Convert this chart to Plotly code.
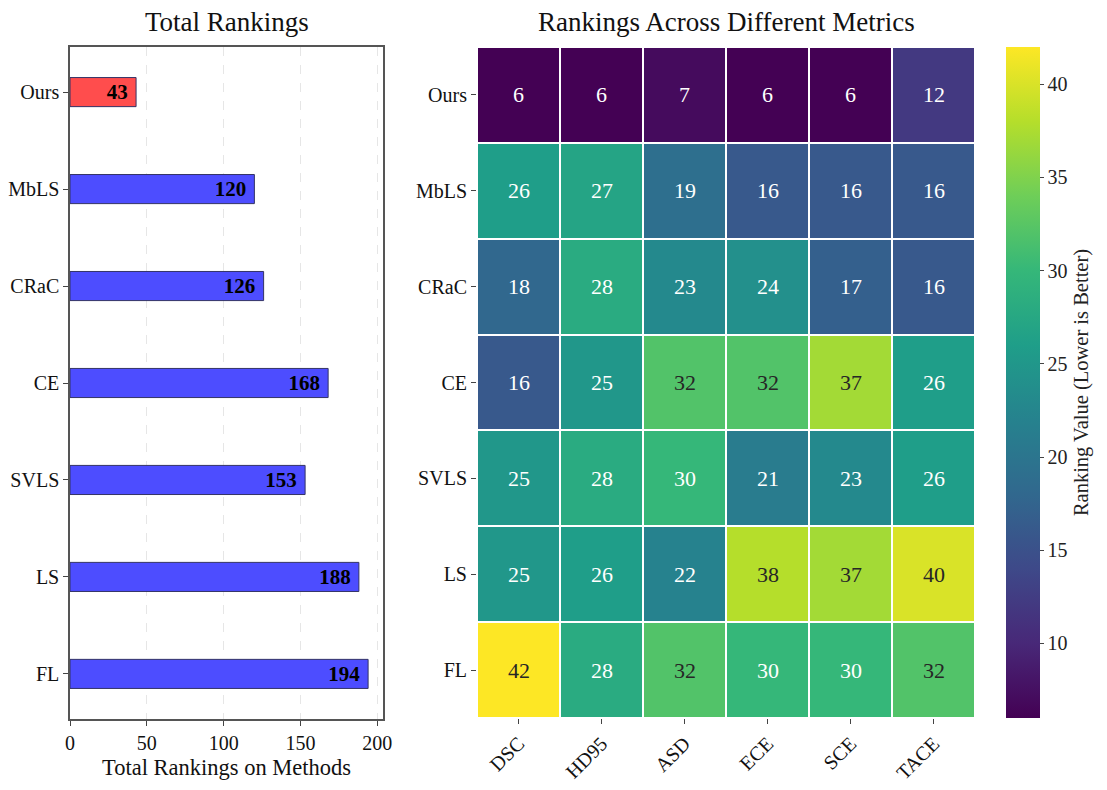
import plotly.graph_objects as go

methods = ["Ours", "MbLS", "CRaC", "CE", "SVLS", "LS", "FL"]
totals = [43, 120, 126, 168, 153, 188, 194]
metrics = ["DSC", "HD95", "ASD", "ECE", "SCE", "TACE"]
rankings = [
    [6, 6, 7, 6, 6, 12],
    [26, 27, 19, 16, 16, 16],
    [18, 28, 23, 24, 17, 16],
    [16, 25, 32, 32, 37, 26],
    [25, 28, 30, 21, 23, 26],
    [25, 26, 22, 38, 37, 40],
    [42, 28, 32, 30, 30, 32],
]
bar_colors = ["#ff4d4d" if m == "Ours" else "#4d4dff" for m in methods]

FONT = "Liberation Serif, Times New Roman, serif"
W, H = 1107, 790
OFF = 8  # default page body margin
# plot area in screen px
PL, PR, PT, PB = 70, 975, 47, 719
ML, MT = PL - OFF, PT - OFF
MR, MB = W - (PR - OFF), H - (PB - OFF)
PW, PH = PR - PL, PB - PT

def fx(s):
    return (s - PL) / PW

def fy(s):
    return 1 - (s - PT) / PH

fig = go.Figure()

fig.add_trace(go.Bar(
    y=methods, x=totals, orientation="h",
    marker=dict(color=bar_colors, line=dict(color="#333366", width=1)),
    width=0.3,
    text=[f"<b>{v}</b>\u00a0" for v in totals],
    textposition="inside", insidetextanchor="end", textangle=0,
    textfont=dict(family=FONT, size=21, color="black"),
    constraintext="none", cliponaxis=False,
    xaxis="x", yaxis="y", showlegend=False,
))

zmin = min(min(r) for r in rankings)
zmax = max(max(r) for r in rankings)
fig.add_trace(go.Heatmap(
    z=rankings, x=metrics, y=methods,
    colorscale="Viridis", zmin=zmin, zmax=zmax,
    xgap=2, ygap=2,
    colorbar=dict(
        x=fx(1006), xanchor="left", thickness=34, thicknessmode="pixels",
        xpad=0, ypad=0,
        y=fy(718), yanchor="bottom", len=fy(47) - fy(718), lenmode="fraction",
        tickvals=[10, 15, 20, 25, 30, 35, 40], ticks="outside", ticklen=4,
        tickfont=dict(family=FONT, size=20, color="#222"),
        outlinewidth=0,
        title=dict(text="Ranking Value (Lower is Better)", side="right",
                   font=dict(family=FONT, size=20.5, color="#222")),
    ),
    xaxis="x2", yaxis="y2", showscale=True, hoverinfo="z",
))

annotations = []
for i, m in enumerate(methods):
    for j, k in enumerate(metrics):
        v = rankings[i][j]
        annotations.append(dict(
            x=k, y=m, xref="x2", yref="y2", text=str(v), showarrow=False,
            font=dict(family=FONT, size=22, color="#262626" if v > 31 else "white"),
        ))

annotations.append(dict(text="Total Rankings", x=(fx(70) + fx(383)) / 2, y=fy(22),
                        xref="paper", yref="paper", showarrow=False,
                        xanchor="center", yanchor="middle",
                        font=dict(family=FONT, size=27, color="#111")))
annotations.append(dict(text="Rankings Across Different Metrics", x=(fx(477) + fx(975)) / 2,
                        y=fy(22), xref="paper", yref="paper", showarrow=False,
                        xanchor="center", yanchor="middle",
                        font=dict(family=FONT, size=27, color="#111")))

fig.update_layout(
    width=W, height=H, margin=dict(l=ML, r=MR, t=MT, b=MB, autoexpand=False),
    paper_bgcolor="white", plot_bgcolor="white",
    font=dict(family=FONT, color="#111"),
    annotations=annotations,
    xaxis=dict(domain=[fx(70), fx(383)], range=[0, 203.7],
               tickvals=[0, 50, 100, 150, 200], ticks="outside", ticklen=5,
               tickfont=dict(family=FONT, size=20, color="#111"),
               showgrid=True, gridcolor="#e6e6e6", griddash="dash", gridwidth=1,
               zeroline=False, showline=True, linecolor="#555", linewidth=1.5, mirror=True,
               title=dict(text="Total Rankings on Methods", font=dict(family=FONT, size=22.5, color="#111"),
                          standoff=6),
               anchor="y"),
    yaxis=dict(domain=[fy(719), fy(47)], autorange=False, range=[6.465, -0.465],
               categoryorder="array", categoryarray=methods,
               ticks="outside", ticklen=5, tickfont=dict(family=FONT, size=20, color="#111"),
               showgrid=False, zeroline=False, showline=True, linecolor="#555",
               linewidth=1.5, mirror=True, anchor="x"),
    xaxis2=dict(domain=[fx(477), fx(975)], tickangle=-45, ticks="outside", ticklen=5,
                tickfont=dict(family=FONT, size=20, color="#111"),
                showgrid=False, zeroline=False, showline=False, anchor="y2"),
    yaxis2=dict(domain=[fy(718), fy(47)], autorange="reversed",
                ticks="outside", ticklen=5, tickfont=dict(family=FONT, size=20, color="#111"),
                showgrid=False, zeroline=False, showline=False, anchor="x2"),
)

fig.write_html("out.html")
